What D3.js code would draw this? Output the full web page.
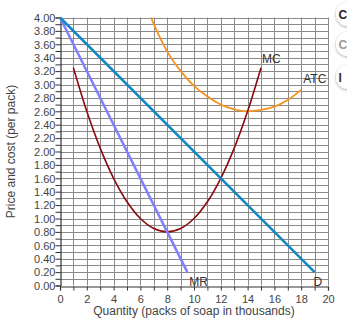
<!DOCTYPE html>
<html>
<head>
<meta charset="utf-8">
<script src="https://cdn.jsdelivr.net/npm/d3@7"></script>
<style>
  body { margin: 0; background: #fff; }
  svg { font-family: Arial, "Liberation Sans", sans-serif; }
</style>
</head>
<body>
<svg id="chart" width="347" height="323"></svg>
<script>
// quantity (thousands) and price/cost points for each curve
let demandQ = [0, 19];
let demandP = [4.0, 0.2];

let mrQ = [0, 9.5];
let mrP = [4.0, 0.2];

let mcQ = [1, 2, 3, 4, 5, 6, 7, 8, 9, 10, 11, 12, 13, 14, 15];
let mcP = [3.25, 2.6, 2.05, 1.6, 1.25, 1.0, 0.85, 0.8, 0.85, 1.0, 1.25, 1.6, 2.05, 2.6, 3.25];

let atcQ = [6.8, 7, 8, 9, 10, 11, 12, 13, 14, 15, 16, 17, 18];
let atcP = [4.0, 3.9, 3.49, 3.2, 2.98, 2.82, 2.7, 2.63, 2.6, 2.62, 2.67, 2.77, 2.92];

let xTicks = [0, 2, 4, 6, 8, 10, 12, 14, 16, 18, 20];
let yTicks = [0, 0.2, 0.4, 0.6, 0.8, 1.0, 1.2, 1.4, 1.6, 1.8, 2.0, 2.2, 2.4,
  2.6, 2.8, 3.0, 3.2, 3.4, 3.6, 3.8, 4.0];

const svg = d3.select('#chart');

let x = d3.scaleLinear().domain([0, 20]).range([60, 328]);
let y = d3.scaleLinear().domain([0, 4]).range([285.5, 17.5]);

function pts(qs, ps) {
  return qs.map((q, i) => [q, ps[i]]);
}

// grid: one line per unit across, one per 0.1 up
let grid = svg.append('g').attr('stroke', '#8a8a8a').attr('stroke-width', 1);
grid.selectAll('line.v')
  .data(d3.range(1, 21))
  .enter().append('line')
  .attr('x1', d => Math.round(x(d)) + 0.5).attr('x2', d => Math.round(x(d)) + 0.5)
  .attr('y1', y(4)).attr('y2', y(0));
grid.selectAll('line.h')
  .data(d3.range(1, 41).map(d => d / 10))
  .enter().append('line')
  .attr('y1', d => Math.round(y(d)) + 0.5).attr('y2', d => Math.round(y(d)) + 0.5)
  .attr('x1', x(0)).attr('x2', x(20));

// axes
let xAxis = svg.append('g')
  .attr('transform', `translate(0,${Math.round(y(0)) + 0.5})`)
  .call(d3.axisBottom(x).tickValues(d3.range(0, 21)).tickSize(4)
    .tickFormat(d => xTicks.includes(d) ? d : ''));
let yAxis = svg.append('g')
  .attr('transform', `translate(${Math.round(x(0)) + 0.5},0)`)
  .call(d3.axisLeft(y).tickValues(d3.range(0, 41).map(d => d / 10)).tickSize(5)
    .tickFormat(d => yTicks.some(t => Math.abs(t - d) < 1e-6) ? d.toFixed(2) : ''));

[xAxis, yAxis].forEach(a => {
  a.select('.domain').attr('stroke', '#333').attr('stroke-width', 1.2);
  a.selectAll('.tick line').attr('stroke', '#333');
  a.selectAll('.tick text').attr('fill', '#444').style('font-size', '11px');
});
xAxis.selectAll('.tick text').attr('dy', '0.9em');
yAxis.selectAll('.tick text').attr('x', -5).attr('dy', '0.34em');

// axis titles
svg.append('text')
  .attr('x', x(10)).attr('y', 315)
  .attr('text-anchor', 'middle')
  .attr('fill', '#444').style('font-size', '12px')
  .text('Quantity (packs of soap in thousands)');
svg.append('text')
  .attr('transform', `translate(15,${y(2)}) rotate(-90)`)
  .attr('text-anchor', 'middle')
  .attr('fill', '#444').style('font-size', '12px')
  .text('Price and cost (per pack)');

let line = d3.line().x(d => x(d[0])).y(d => y(d[1]));
let smooth = d3.line().x(d => x(d[0])).y(d => y(d[1])).curve(d3.curveCatmullRom);

// plot curves
svg.append('path').datum(pts(atcQ, atcP))
  .attr('d', smooth).attr('fill', 'none')
  .attr('stroke', '#f7931e').attr('stroke-width', 1.8);
svg.append('path').datum(pts(mcQ, mcP))
  .attr('d', smooth).attr('fill', 'none')
  .attr('stroke', '#8b0a0a').attr('stroke-width', 1.6);
svg.append('path').datum(pts(mrQ, mrP))
  .attr('d', line).attr('fill', 'none')
  .attr('stroke', '#8080ff').attr('stroke-width', 2.5);
svg.append('path').datum(pts(demandQ, demandP))
  .attr('d', line).attr('fill', 'none')
  .attr('stroke', '#1487c4').attr('stroke-width', 2.5);

// curve labels
let labels = [
  { t: 'MC', q: mcQ[mcQ.length - 1], p: mcP[mcP.length - 1], dx: 1, dy: -5 },
  { t: 'ATC', q: atcQ[atcQ.length - 1], p: atcP[atcP.length - 1], dx: 2, dy: -7 },
  { t: 'MR', q: mrQ[1], p: mrP[1], dx: 2, dy: 14 },
  { t: 'D', q: demandQ[1], p: demandP[1], dx: -1, dy: 14 }
];
svg.selectAll('text.curve')
  .data(labels)
  .enter().append('text')
  .attr('x', d => x(d.q) + d.dx).attr('y', d => y(d.p) + d.dy)
  .attr('fill', '#333').style('font-size', '12px')
  .text(d => d.t);

// side buttons at the right edge
let btns = [{ cy: 14, c: '#222', t: 'C' }, { cy: 44, c: '#999', t: 'C' }, { cy: 77, c: '#333', t: 'I' }];
let defs = svg.append('defs');
defs.append('filter').attr('id', 'sh')
  .append('feDropShadow').attr('dx', 0).attr('dy', 1).attr('stdDeviation', 1.5)
  .attr('flood-color', '#000').attr('flood-opacity', 0.35);
btns.forEach(b => {
  svg.append('rect')
    .attr('x', 336).attr('y', b.cy - 12).attr('width', 40).attr('height', 24)
    .attr('rx', 12).attr('fill', '#fff').attr('filter', 'url(#sh)');
  svg.append('text')
    .attr('x', 338.5).attr('y', b.cy + 5)
    .attr('fill', b.c).style('font-size', '12px').style('font-weight', 'bold')
    .text(b.t);
});
</script>
</body>
</html>
